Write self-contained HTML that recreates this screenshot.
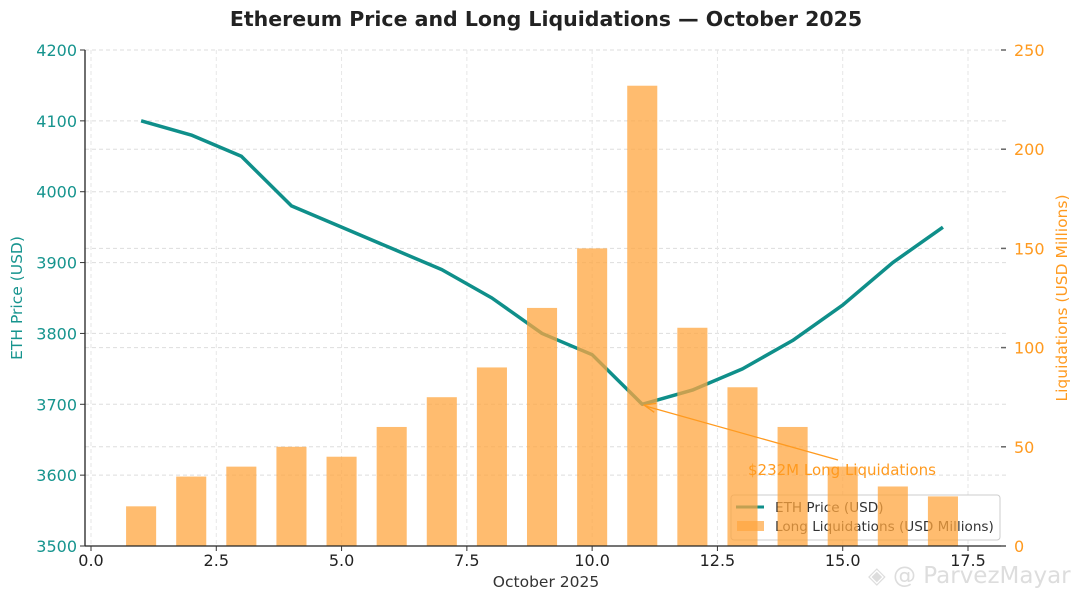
<!DOCTYPE html>
<html><head><meta charset="utf-8"><style>
body{margin:0;background:#fff;}
svg{display:block;font-family:"DejaVu Sans","Liberation Sans",sans-serif;}
</style></head><body>
<svg id="chart" width="1080" height="601"></svg>
<script>
const days=[1,2,3,4,5,6,7,8,9,10,11,12,13,14,15,16,17];
const ethPrice=[4100,4080,4050,3980,3950,3920,3890,3850,3800,3770,3700,3720,3750,3790,3840,3900,3950];
const liquidations=[20,35,40,50,45,60,75,90,120,150,232,110,80,60,40,30,25];
const xTicks=[0,2.5,5,7.5,10,12.5,15,17.5];
const xTickLabels=["0.0","2.5","5.0","7.5","10.0","12.5","15.0","17.5"];
const leftTicks=[3500,3600,3700,3800,3900,4000,4100,4200];
const rightTicks=[0,50,100,150,200,250];

const NS="http://www.w3.org/2000/svg";
const svg=document.getElementById('chart');
const L=85,R=1006,T=50,B=546;
const x=v=>91+v*(968-91)/17.5;
const yL=v=>B-(v-3500)/700*(B-T);
const yR=v=>B-v/250*(B-T);
function el(tag,attrs,parent){const e=document.createElementNS(NS,tag);for(const k in attrs)e.setAttribute(k,attrs[k]);(parent||svg).appendChild(e);return e;}
function txt(s,attrs){const t=el('text',attrs);t.textContent=s;return t;}

// grids
leftTicks.forEach(v=>{const g=el('line',{x1:L,x2:R,y1:yL(v),y2:yL(v),stroke:'#ddd','stroke-dasharray':'4,3','stroke-width':1});

});
rightTicks.forEach(v=>{const g=el('line',{x1:L,x2:R,y1:yR(v),y2:yR(v),stroke:'#ddd','stroke-dasharray':'4,3','stroke-width':1});

});
xTicks.forEach(v=>{const g=el('line',{x1:x(v),x2:x(v),y1:T,y2:B,stroke:'#e6e6e6','stroke-dasharray':'4,3','stroke-width':1});

});

// legend (behind bars)
const lg=el('g',{});


el('rect',{x:731,y:495,width:269,height:45,rx:3,fill:'#fff',stroke:'#ccc'},lg);
el('line',{x1:736,x2:764,y1:507,y2:507,stroke:'#0f8f8a','stroke-width':3},lg);
el('rect',{x:737,y:521,width:27,height:10,fill:'#ffa53f',opacity:0.7},lg);
const le1=el('text',{x:775,y:512,'font-size':13.6,fill:'#333'},lg);le1.textContent='ETH Price (USD)';


const le2=el('text',{x:775,y:531,'font-size':13.6,fill:'#333'},lg);le2.textContent='Long Liquidations (USD Millions)';



// line
const pts=days.map((d,i)=>x(d)+','+yL(ethPrice[i])).join(' ');
const ln=el('polyline',{points:pts,fill:'none',stroke:'#0f8f8a','stroke-width':3.5,'stroke-linejoin':'round'});



// bars
const bw=0.6*(968-91)/17.5;
days.forEach((d,i)=>{const b=el('rect',{x:x(d)-bw/2,y:yR(liquidations[i]),width:bw,height:B-yR(liquidations[i]),fill:'#ffa53f',opacity:0.75});

});

// annotation
const ar=el('line',{x1:838,y1:460,x2:x(11)+4,y2:yL(3700)+2,stroke:'#ff9a1f','stroke-width':1.3});


el('polyline',{points:`${x(11)+14},${yL(3700)-1} ${x(11)+2},${yL(3700)+1} ${x(11)+12},${yL(3700)+8}`,fill:'none',stroke:'#ff9a1f','stroke-width':1.3});
const an=txt('$232M Long Liquidations',{x:748,y:475,'font-size':15,fill:'#ff9a1f'});



// axes
el('line',{x1:L,x2:L,y1:T,y2:B,stroke:'#222','stroke-width':1.3});
el('line',{x1:L,x2:R,y1:B,y2:B,stroke:'#222','stroke-width':1.3});
leftTicks.forEach(v=>{el('line',{x1:L-5,x2:L,y1:yL(v),y2:yL(v),stroke:'#333'});
const t=txt(v,{x:L-8,y:yL(v)+6,'font-size':16,fill:'#16948e','text-anchor':'end'});

});
rightTicks.forEach(v=>{el('line',{x1:R-5,x2:R,y1:yR(v),y2:yR(v),stroke:'#666','stroke-width':1.5});
const t=txt(v,{x:R+8,y:yR(v)+6,'font-size':16,fill:'#ff9a1f'});

});
xTicks.forEach((v,i)=>{el('line',{x1:x(v),x2:x(v),y1:B,y2:B+5,stroke:'#333'});
const t=txt(xTickLabels[i],{x:x(v),y:B+20,'font-size':16,fill:'#222','text-anchor':'middle'});

});

const ti=txt('Ethereum Price and Long Liquidations — October 2025',{x:546,y:26,'font-size':20.5,'font-weight':'bold',fill:'#222','text-anchor':'middle'});


const xt=txt('October 2025',{x:546,y:587,'font-size':15.5,fill:'#333','text-anchor':'middle'});


const yt=txt('ETH Price (USD)',{x:0,y:0,'font-size':15.5,fill:'#16948e','text-anchor':'middle',transform:'translate(22,298) rotate(-90)'});


const yt2=txt('Liquidations (USD Millions)',{x:0,y:0,'font-size':15.5,fill:'#ff9a1f','text-anchor':'middle',transform:'translate(1067,298) rotate(-90)'});


const wm=txt('◈ @ ParvezMayar',{x:868,y:583,'font-size':23,fill:'#ddd'});


</script>
</body></html>
